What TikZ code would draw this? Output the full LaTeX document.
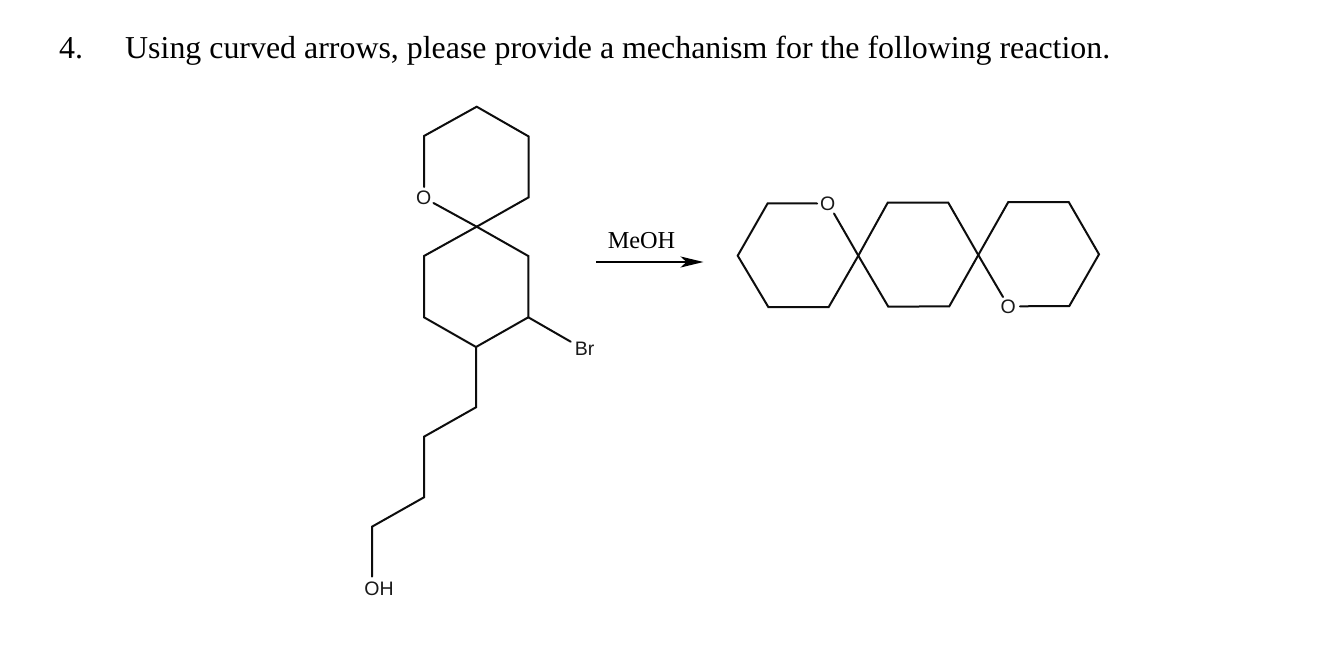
\documentclass[tikz,border=0pt]{standalone}
\usepackage{fontspec}
\setmainfont{Liberation Serif}
\newfontfamily\atomfont{Liberation Sans}
\usetikzlibrary{arrows.meta}
\tikzset{
  x=1pt,y=-1pt,
  bond/.style={line width=2pt,line join=miter,line cap=round,black!95},
  atom/.style={font=\atomfont\fontsize{19.5}{22}\selectfont,inner sep=0pt,text=black!90},
  title/.style={font=\fontsize{31.9}{38}\selectfont,anchor=base west,inner sep=0pt},
  rxn/.style={line width=2pt,-{Stealth[length=23pt,width=11pt,inset=6pt]}},
  cond/.style={font=\fontsize{24.3}{28}\selectfont,inner sep=0pt}
}
\begin{document}
\begin{tikzpicture}
\useasboundingbox[fill=white] (0,0) rectangle (1320,666);
\node[title] (num) at (59,59) {4.};
\node[title] (ttl) at (125,59) {Using curved arrows, please provide a mechanism for the following reaction.};
% left molecule
\coordinate (a1) at (476.7,106.7);
\coordinate (a2) at (424,136);
\coordinate (a3) at (528.7,136.5);
\coordinate (a4) at (528.7,197.3);
\coordinate (sp) at (476.7,226.7);
\coordinate (b1) at (424,256);
\coordinate (b2) at (528.3,256);
\coordinate (b3) at (424,317.3);
\coordinate (b4) at (528.3,317.3);
\coordinate (b5) at (476,347);
\coordinate (c1) at (476,407.3);
\coordinate (c2) at (424,436.7);
\coordinate (c3) at (424,497.3);
\coordinate (c4) at (372,526.7);
\node[atom] (oa) at (423.7,197.7) {O};
\node[atom] (br) at (584.5,348.3) {Br};
\node[atom] (oh) at (379,588.5) {OH};
\coordinate (brEnd) at (570.7,341.7);
\coordinate (ohEnd) at (372,576.7);
\coordinate (oaTop) at (424,187);
\coordinate (oaLow) at (433.5,203);
\draw[bond] (oaTop) -- (a2) -- (a1) -- (a3) -- (a4) -- (sp) -- (oaLow);
\draw[bond] (sp) -- (b1) -- (b3) -- (b5) -- (b4) -- (b2) -- (sp);
\draw[bond] (b4) -- (brEnd);
\draw[bond] (b5) -- (c1) -- (c2) -- (c3) -- (c4) -- (ohEnd);
% reaction arrow
\coordinate (arS) at (596,262);
\coordinate (arE) at (703.5,262);
\draw[rxn] (arS) -- (arE);
\node[cond] (meoh) at (641.5,241) {MeOH};
% right molecule
\coordinate (r1) at (737.7,255.7);
\coordinate (r2) at (767.7,203.3);
\coordinate (r3) at (768.3,307);
\coordinate (r4) at (828.7,307);
\coordinate (s1) at (858.3,255.7);
\coordinate (m1) at (887.7,202.7);
\coordinate (m2) at (948.3,202.7);
\coordinate (s2) at (978.3,255);
\coordinate (m3) at (949.3,306.3);
\coordinate (m4) at (888.3,306.7);
\coordinate (t1) at (1008.3,202);
\coordinate (t2) at (1068.7,202);
\coordinate (t3) at (1099,254.3);
\coordinate (t4) at (1069.3,306);
\node[atom] (ob) at (827.7,204) {O};
\node[atom] (oc) at (1008.3,307) {O};
\coordinate (obL) at (817,203.5);
\coordinate (obR) at (834,213.5);
\coordinate (ocT) at (1003,297);
\coordinate (ocR) at (1020,306.3);
\draw[bond] (obL) -- (r2) -- (r1) -- (r3) -- (r4) -- (s1) -- (obR);
\draw[bond] (s1) -- (m1) -- (m2) -- (s2) -- (m3) -- (m4) -- (s1);
\draw[bond] (s2) -- (ocT);
\draw[bond] (s2) -- (t1) -- (t2) -- (t3) -- (t4) -- (ocR);
\end{tikzpicture}
\end{document}
